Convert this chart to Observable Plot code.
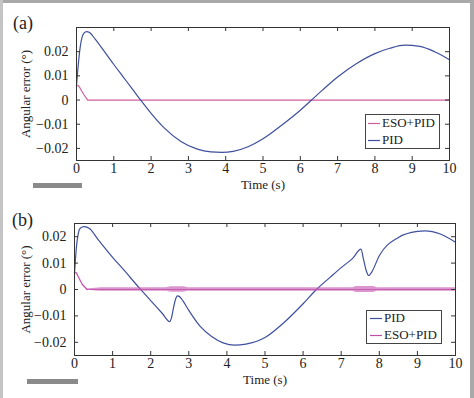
<!DOCTYPE html>
<html>
<head>
<meta charset="utf-8">
<script src="https://cdn.jsdelivr.net/npm/d3@7"></script>
<script src="https://cdn.jsdelivr.net/npm/@observablehq/plot@0.6"></script>
<style>
  html, body { margin: 0; padding: 0; background: #fff; }
  #wrap { position: relative; width: 474px; height: 398px; overflow: hidden; background: #fff; font-family: 'Liberation Serif', serif; color: #222; }
  #wrap svg text { font-family: 'Liberation Serif', serif; }
  .abs { position: absolute; }
  .legend { position: absolute; border: 1px solid #444; background: #fff; box-sizing: border-box; }
  .legend .row { position: absolute; left: 0; right: 0; height: 16px; }
  .legend .row svg { position: absolute; top: 0; }
  .legend .row span { position: absolute; font-size: 13px; line-height: 16px; top: 0; font-family: 'Liberation Serif', serif; }
</style>
</head>
<body>
<div id="wrap"></div>
<script>
// ---------- data ----------
const ticksX = [0, 1, 2, 3, 4, 5, 6, 7, 8, 9, 10];
const ticksY = [-0.02, -0.01, 0, 0.01, 0.02];
const seriesNames = ["PID", "ESO+PID"];

// Panel (a)
const tA_pid = [0, 0.05, 0.1, 0.15, 0.2, 0.27, 0.35, 0.5, 0.75, 1.0, 1.25, 1.5, 1.72, 2.0, 2.35, 2.8, 3.24, 3.6, 3.9, 4.2, 4.6, 5.0, 5.5, 6.0, 6.3, 6.6, 7.0, 7.5, 8.0, 8.4, 8.8, 9.2, 9.6, 10];
const vA_pid = [0.006, 0.015, 0.022, 0.026, 0.0277, 0.0283, 0.0279, 0.0252, 0.0200, 0.0147, 0.0096, 0.0045, 0, -0.0055, -0.0115, -0.0171, -0.0203, -0.0214, -0.0216, -0.0212, -0.0193, -0.0160, -0.0104, -0.0042, 0, 0.0042, 0.0095, 0.0150, 0.0192, 0.0214, 0.0227, 0.0222, 0.0200, 0.0167];
const tA_eso = [0, 0.05, 0.1, 0.2, 0.3, 10];
const vA_eso = [0.0058, 0.006, 0.0048, 0.0022, 0, 0];

// Panel (b)
const tB_pid = [0, 0.05, 0.1, 0.15, 0.25, 0.4, 0.6, 1.0, 1.3, 1.7, 2.0, 2.3, 2.5, 2.55, 2.6, 2.65, 2.7, 2.75, 2.85, 3.0, 3.3, 3.6, 3.9, 4.2, 4.5, 5.0, 5.5, 6.0, 6.35, 6.7, 7.0, 7.3, 7.52, 7.58, 7.65, 7.72, 7.8, 8.0, 8.5, 9.0, 9.2, 9.6, 10];
const vB_pid = [0.006, 0.016, 0.0213, 0.0232, 0.0238, 0.0230, 0.0193, 0.0122, 0.0073, 0.0006, -0.0042, -0.0090, -0.0122, -0.0105, -0.0068, -0.0038, -0.0024, -0.0026, -0.0044, -0.0079, -0.0140, -0.0178, -0.0202, -0.0211, -0.0207, -0.0182, -0.0125, -0.0054, 0, 0.0045, 0.0083, 0.0118, 0.0153, 0.0118, 0.0075, 0.0053, 0.0066, 0.0128, 0.0197, 0.0220, 0.0222, 0.0210, 0.0179];
const tB_eso = [0, 0.05, 0.1, 0.2, 0.33];
const vB_eso = [0.0064, 0.0063, 0.0048, 0.002, 0];
// ripple envelope (half amplitude) of ESO+PID in panel (b)
const tB_rip = [0.33, 0.8, 2.4, 2.55, 2.85, 3.0, 7.3, 7.4, 7.85, 7.95, 10];
const aB_rip = [0.0002, 0.0007, 0.0007, 0.001, 0.001, 0.0007, 0.0007, 0.0011, 0.0011, 0.0007, 0.0007];

const colPID = "#3f4f9e";
const colESOa = "#cf5f9c";
const colESOb = "#c24fac";
const FONT = "Liberation Serif";

const zip = (t, v) => t.map((x, i) => ({t: x, v: v[i]}));
const fmtY = d => d === 0 ? "0" : (d < 0 ? "\u2212" : "") + Math.abs(d).toFixed(2);

function panel(o) {
  const fw = o.width - o.mL - o.mR;
  const fh = o.height - o.mT - o.mB;
  const tick = 4;
  return Plot.plot({
    width: o.width, height: o.height,
    marginLeft: o.mL, marginRight: o.mR, marginTop: o.mT, marginBottom: o.mB,
    x: {domain: [0, 10]},
    y: {domain: o.yDomain},
    style: {fontFamily: FONT, fontSize: "14px", color: "#222", background: "transparent", overflow: "visible"},
    marks: [
      ...o.marks,
      Plot.frame({stroke: "#333", strokeWidth: 1}),
      Plot.tickX(ticksX, {x: d => d, insetTop: fh - tick, stroke: "#333"}),
      Plot.tickX(ticksX, {x: d => d, insetBottom: fh - tick, stroke: "#333"}),
      Plot.tickY(ticksY, {y: d => d, insetRight: fw - tick, stroke: "#333"}),
      Plot.tickY(ticksY, {y: d => d, insetLeft: fw - tick, stroke: "#333"}),
      Plot.axisX(ticksX, {tickSize: 0, tickPadding: o.xPad, label: null, fontSize: 14, fontFamily: FONT, tickFormat: d => String(d)}),
      Plot.axisY(ticksY, {tickSize: 0, tickPadding: 8, label: null, fontSize: 14, fontFamily: FONT, tickFormat: fmtY}),
      Plot.text(["Time (s)"], {frameAnchor: "bottom", dy: o.xLabelDy, fontSize: 13, fontFamily: FONT, lineAnchor: "middle", textAnchor: "middle"}),
      Plot.text(["Angular error (\u00b0)"], {frameAnchor: "left", dx: o.yLabelDx, rotate: -90, fontSize: 13, fontFamily: FONT, lineAnchor: "middle", textAnchor: "middle"})
    ]
  });
}

const wrap = document.getElementById("wrap");

const pA = panel({
  width: 474, height: 200, mL: 76, mR: 25, mT: 27, mB: 40,
  yDomain: [-0.025, 0.03], xPad: 3, xLabelDy: 24, yLabelDx: -51,
  marks: [
    Plot.line(zip(tA_eso, vA_eso), {x: "t", y: "v", stroke: colESOa, strokeWidth: 1.2}),
    Plot.line(zip(tA_pid, vA_pid), {x: "t", y: "v", stroke: colPID, strokeWidth: 1.2, curve: "monotone-x"})
  ]
});
pA.style.position = "absolute"; pA.style.left = "0px"; pA.style.top = "0px";
wrap.appendChild(pA);

const ripple = tB_rip.map((t, i) => ({t, lo: -aB_rip[i], hi: aB_rip[i]}));
const pB = panel({
  width: 474, height: 198, mL: 74, mR: 19, mT: 23, mB: 43,
  yDomain: [-0.025, 0.025], xPad: 3, xLabelDy: 24, yLabelDx: -49,
  marks: [
    Plot.line(zip(tB_pid, vB_pid), {x: "t", y: "v", stroke: colPID, strokeWidth: 1.2, curve: "monotone-x"}),
    Plot.areaY(ripple, {x: "t", y1: "lo", y2: "hi", fill: colESOb, fillOpacity: 0.6, curve: "monotone-x"}),
    Plot.line(ripple, {x: "t", y: d => 0, stroke: colESOb, strokeWidth: 0.8}),
    Plot.line(zip(tB_eso, vB_eso), {x: "t", y: "v", stroke: colESOb, strokeWidth: 1.2})
  ]
});
pB.style.position = "absolute"; pB.style.left = "0px"; pB.style.top = "200px";
wrap.appendChild(pB);

// panel letters
function addText(txt, left, top, size) {
  const d = document.createElement("div");
  d.className = "abs";
  d.textContent = txt;
  d.style.left = left + "px"; d.style.top = top + "px";
  d.style.fontSize = size + "px"; d.style.lineHeight = "1";
  wrap.appendChild(d);
}
addText("(a)", 13, 14, 18);
addText("(b)", 12, 211, 18);

// legends
function addLegend(left, top, w, h, entries) {
  const box = document.createElement("div");
  box.className = "legend";
  box.style.left = left + "px"; box.style.top = top + "px";
  box.style.width = w + "px"; box.style.height = h + "px";
  entries.forEach(e => {
    const row = document.createElement("div");
    row.className = "row";
    row.style.top = (e.cy - 8) + "px";
    row.innerHTML = `<svg width="${e.x2 + 1}" height="16" style="left:0"><line x1="${e.x1}" x2="${e.x2}" y1="8.5" y2="8.5" stroke="${e.color}" stroke-width="1.2"/></svg><span style="left:${e.tx}px">${e.name}</span>`;
    box.appendChild(row);
  });
  wrap.appendChild(box);
}
addLegend(365, 114, 75, 35, [
  {name: seriesNames[1], color: colESOa, cy: 8, x1: 2, x2: 14, tx: 16},
  {name: seriesNames[0], color: colPID, cy: 25, x1: 2, x2: 14, tx: 16}
]);
addLegend(366, 310, 76, 34, [
  {name: seriesNames[0], color: colPID, cy: 7, x1: 3, x2: 15, tx: 17},
  {name: seriesNames[1], color: colESOb, cy: 24, x1: 3, x2: 15, tx: 17}
]);

// small grey bars under each panel
function addBar(left, top, w, h) {
  const d = document.createElement("div");
  d.className = "abs";
  d.style.left = left + "px"; d.style.top = top + "px";
  d.style.width = w + "px"; d.style.height = h + "px";
  d.style.background = "#8a8a8a";
  wrap.appendChild(d);
}
addBar(33, 183, 49, 5);
addBar(27, 379, 51, 5);

// outer grey border
function addBorder(left, top, w, h, color) {
  const d = document.createElement("div");
  d.className = "abs";
  d.style.left = left + "px"; d.style.top = top + "px";
  d.style.width = w + "px"; d.style.height = h + "px";
  d.style.background = color;
  wrap.appendChild(d);
}
addBorder(0, 0, 474, 3, "#a9a9a9");
addBorder(0, 0, 3, 398, "#c4c4c4");
addBorder(470, 0, 4, 398, "#a9a9a9");
</script>
</body>
</html>
